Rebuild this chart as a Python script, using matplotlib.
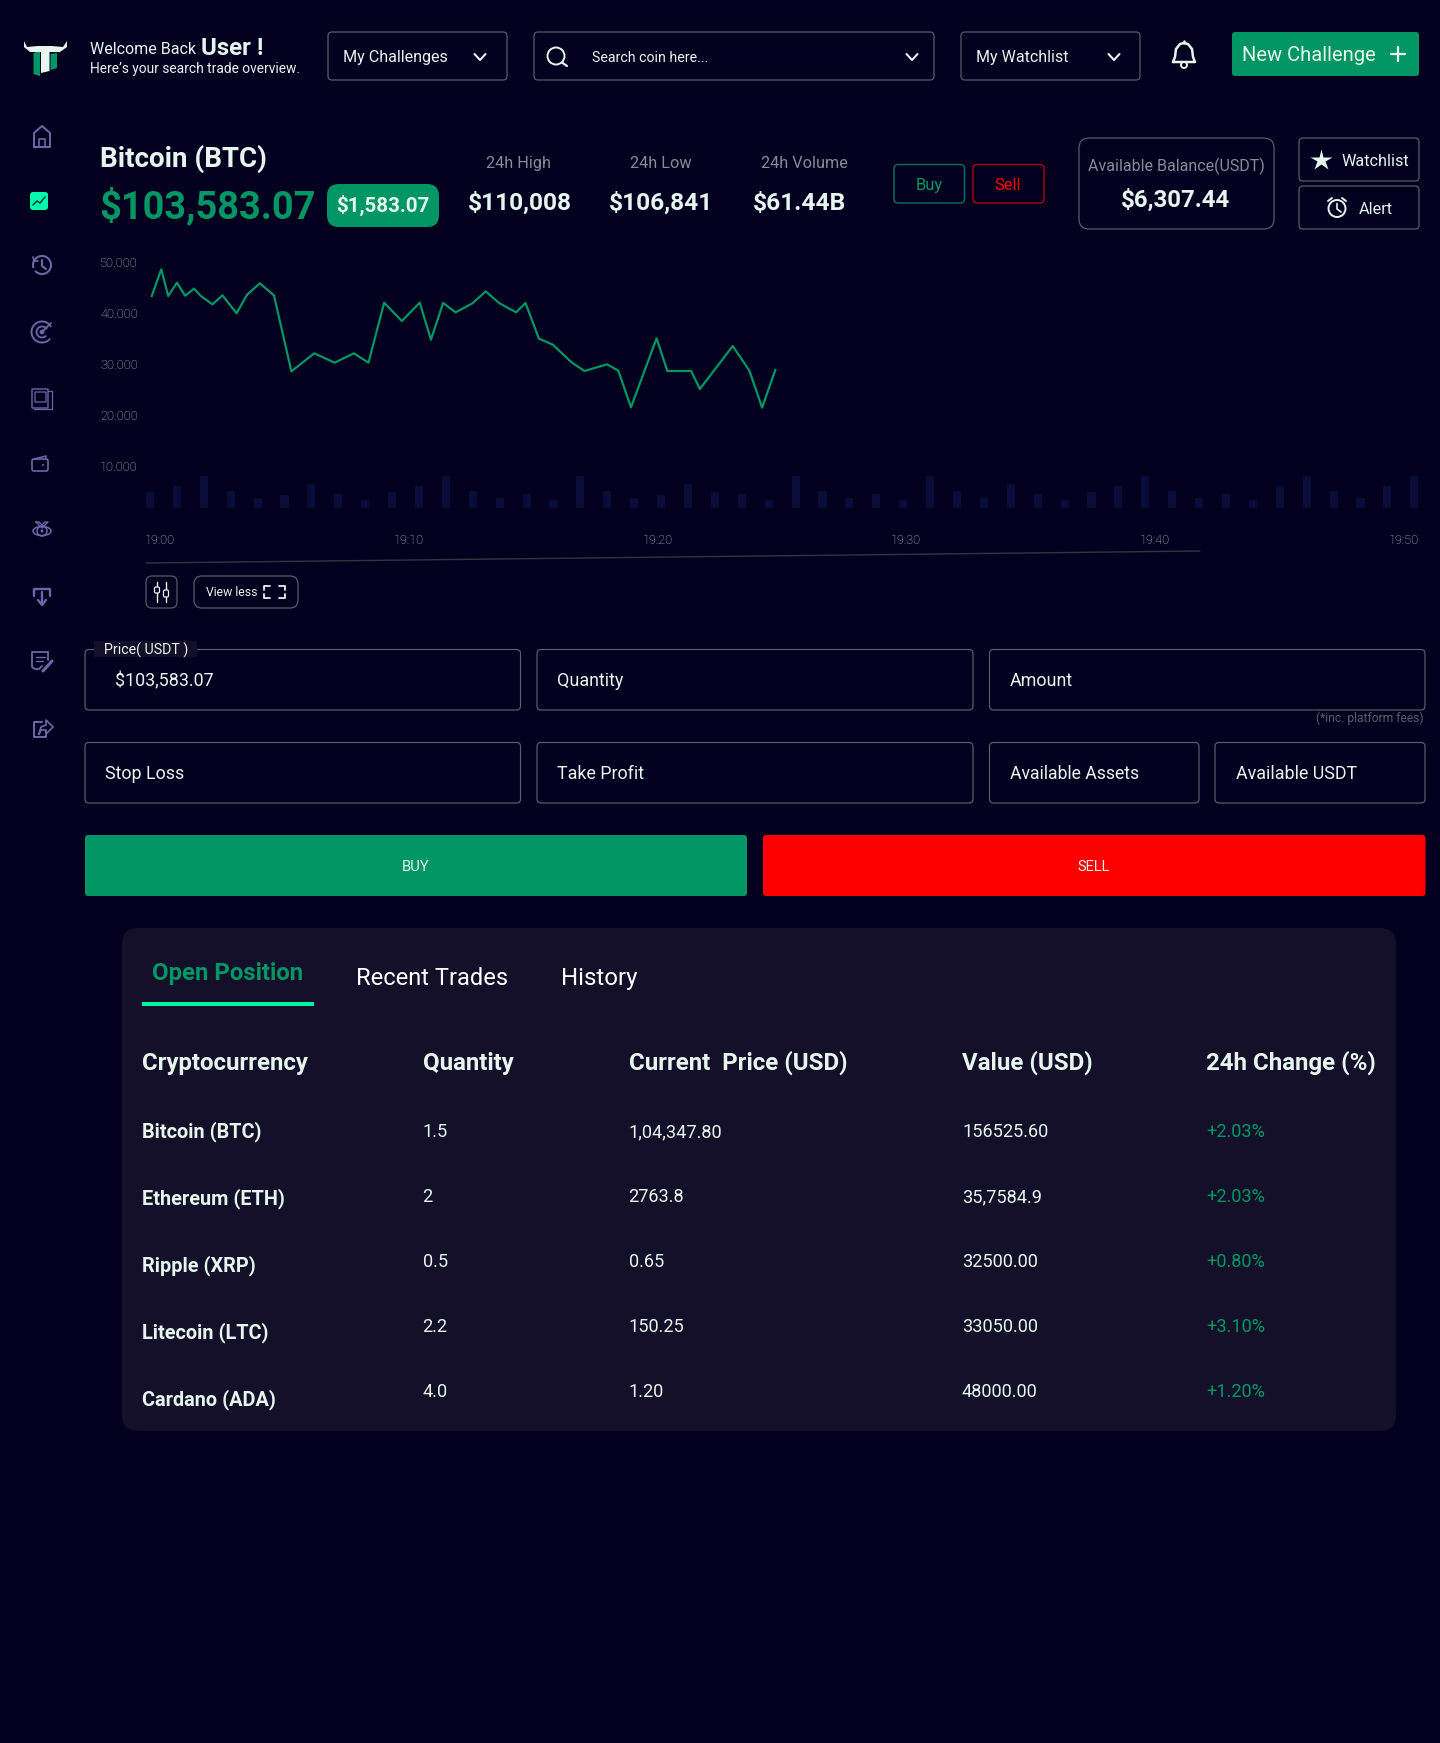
import matplotlib
matplotlib.use("Agg")
import matplotlib.pyplot as plt
from matplotlib.patches import FancyBboxPatch, Rectangle, Circle, Polygon, Arc

BG = "#03001f"
CARD = "#141029"
GREEN = "#029664"
MINT = "#e6f5ee"
GRAY = "#8b8a96"
EDGE = "#5f5f6d"
LAV = "#6f66a8"

# price line, minutes after 19:00 and price
line_minutes = [-0.33, 0.05, 0.33, 0.68, 1.01, 1.37, 1.64, 2.11, 2.51, 3.08, 3.50, 4.01, 4.58, 5.28,
                6.20, 7.02, 7.79, 8.38, 9.01, 9.72, 10.44, 10.89, 11.38, 11.88, 12.56, 13.09, 13.63,
                14.31, 14.69, 15.23, 15.79, 16.54, 17.06, 17.97, 18.42, 18.93, 19.96, 20.39, 21.35,
                21.70, 23.02, 23.69, 24.20, 24.73]
line_prices = [43346, 48565, 43346, 45955, 43412, 44781, 43346, 41715, 43477, 39954, 43607, 45825,
               43477, 28604, 32126, 30299, 32126, 30299, 42042, 38454, 42042, 34801, 41976, 40150,
               41911, 44260, 41976, 40150, 41976, 34997, 33823, 30365, 28669, 29973, 28734, 21558,
               35062, 28669, 28669, 25146, 33561, 28734, 21493, 28864]
volumes = [47, 65, 95, 50, 29, 38, 71, 41, 23, 47, 65, 95, 50, 29, 41, 23, 95, 50, 29, 38, 71, 47, 41, 23,
           95, 50, 29, 41, 23, 95, 50, 29, 71, 41, 23, 47, 65, 95, 50, 29, 41, 23, 65, 95, 50, 29, 65, 95]
price_ticks = [10000, 20000, 30000, 40000, 50000]
price_labels = ["10.000", "20.000", "30.000", "40.000", "50.000"]
time_ticks = [0, 10, 20, 30, 40, 50]
time_labels = ["19:00", "19:10", "19:20", "19:30", "19:40", "19:50"]

# table
table_headers = ["Cryptocurrency", "Quantity", "Current  Price (USD)", "Value (USD)", "24h Change (%)"]
coins = ["Bitcoin (BTC)", "Ethereum (ETH)", "Ripple (XRP)", "Litecoin (LTC)", "Cardano (ADA)"]
quantities = ["1.5", "2", "0.5", "2.2", "4.0"]
cur_prices = ["1,04,347.80", "2763.8", "0.65", "150.25", "1.20"]
values_usd = ["156525.60", "35,7584.9", "32500.00", "33050.00", "48000.00"]
changes = ["+2.03%", "+2.03%", "+0.80%", "+3.10%", "+1.20%"]

plt.rcParams["font.family"] = ["Roboto", "DejaVu Sans"]

W, H = 1440, 1743
fig = plt.figure(figsize=(W / 100, H / 100), dpi=100, facecolor=BG)
ui = fig.add_axes([0, 0, 1, 1])
ui.set_xlim(0, W)
ui.set_ylim(H, 0)
ui.axis("off")


def txt(x, yc, s, px, color=MINT, weight="normal", ha="left"):
    # yc is the middle of the capitals, px the font size in pixels
    ui.text(x, yc + 0.355 * px, s, fontsize=px * 0.72, color=color, fontweight=weight,
            ha=ha, va="baseline")


def box(x0, y0, x1, y1, r=4, fc="none", ec=EDGE, lw=0.85, z=2):
    ui.add_patch(FancyBboxPatch((x0, y0), x1 - x0, y1 - y0, boxstyle=f"round,pad=0,rounding_size={r}",
                                fc=fc, ec=ec, lw=lw, zorder=z))


def pl(xs, ys, color=MINT, lw=1.3, z=3):
    ui.plot(xs, ys, color=color, lw=lw, zorder=z, solid_capstyle="round", solid_joinstyle="round")


def chevron(cx, cy, color=MINT):
    pl([cx - 5.5, cx, cx + 5.5], [cy - 3, cy + 3, cy - 3], color, 1.5)


# logo
ui.add_patch(Polygon([[33.5, 53], [40, 51], [40, 76], [33.5, 74]], fc=GREEN, ec="none"))
ui.add_patch(Polygon([[50.5, 54], [57, 53], [57, 68], [50.5, 70]], fc=GREEN, ec="none"))
ui.add_patch(Polygon([[41, 51], [49.5, 51], [49.5, 71], [41, 73]], fc=MINT, ec="none"))
ui.add_patch(Polygon([[24, 41], [27, 47], [38, 46], [52, 46], [63, 47], [67, 41], [67, 47], [60, 52],
                      [30, 52], [24, 47]], fc=MINT, ec="none"))

# header
txt(90, 48, "Welcome Back", 16, MINT)
txt(201, 46, "User !", 24, MINT, "bold")
txt(90, 68, "Here\u2019s your search trade overview.", 13.8, MINT)
box(328, 32, 507, 80)
txt(343, 56.5, "My Challenges", 16.1)
chevron(480, 57)
box(534, 32, 934, 80)
ui.add_patch(Circle((556, 56), 8.5, fc="none", ec=MINT, lw=1.4, zorder=3))
pl([562, 567], [62.5, 66], MINT, 1.6)
txt(592, 56.5, "Search coin here...", 14.1)
chevron(912, 57)
box(961, 32, 1140, 80)
txt(976, 56.5, "My Watchlist", 16)
chevron(1114, 57)
# bell
pl([1173, 1175, 1176, 1180, 1184, 1188, 1192, 1193, 1195, 1173],
   [62, 57, 49, 44, 43, 44, 49, 57, 62, 62], MINT, 1.8)
ui.add_patch(Circle((1184, 65), 3, fc=BG, ec=MINT, lw=1.4, zorder=3))
pl([1184, 1184], [41, 43], MINT, 1.8)
box(1232, 32, 1419, 76, r=3, fc=GREEN, ec="none")
txt(1242, 54, "New Challenge", 20.2)
pl([1391, 1405], [54, 54], MINT, 1.6)
pl([1398, 1398], [47, 61], MINT, 1.6)

# ticker row
txt(100, 156.5, "Bitcoin (BTC)", 27.8, MINT, "bold")
txt(99.5, 204.5, "$103,583.07", 38, GREEN, "bold")
box(327, 184, 439, 227, r=12, fc=GREEN, ec="none")
txt(383, 205, "$1,583.07", 20.5, MINT, "bold", ha="center")
txt(518, 162, "24h High", 16.2, GRAY, ha="center")
txt(520, 201, "$110,008", 24.5, MINT, "bold", ha="center")
txt(661, 162, "24h Low", 16.2, GRAY, ha="center")
txt(661, 201, "$106,841", 24.5, MINT, "bold", ha="center")
txt(804, 162, "24h Volume", 16.2, GRAY, ha="center")
txt(800, 201, "$61.44B", 24.5, MINT, "bold", ha="center")
box(894, 164.5, 964.5, 203, ec="#0b6a55", lw=1.1)
txt(929, 184, "Buy", 16.5, GREEN, ha="center")
box(973, 164.5, 1044, 203, ec="#a00010", lw=1.1)
txt(1008, 184, "Sell", 16.5, "#ff0000", ha="center")
box(1079, 138, 1274, 229, r=10)
txt(1176, 165, "Available Balance(USDT)", 16, GRAY, ha="center")
txt(1176, 198, "$6,307.44", 24, MINT, "bold", ha="center")
box(1299, 138, 1419, 181)
ui.plot([1320.5], [160], marker="*", ms=16, color=MINT, mec="none", zorder=3)
txt(1342, 160, "Watchlist", 16.2)
box(1299, 186, 1419, 229)
ui.add_patch(Circle((1337, 208.5), 8.5, fc="none", ec=MINT, lw=1.4, zorder=3))
pl([1337, 1337, 1341], [203.5, 209, 212], MINT, 1.2)
pl([1328, 1332], [201, 198], MINT, 1.4)
pl([1342, 1346], [198, 201], MINT, 1.4)
txt(1359, 208.5, "Alert", 16.2)

# sidebar icons
pl([34, 34, 42, 50, 50, 34], [147, 133, 126, 133, 147, 147], LAV, 1.4)
pl([39, 39, 45, 45], [147, 139, 139, 147], LAV, 1.2)
box(30, 192, 48, 210, r=3, fc="#00fbab", ec="none")
pl([33, 37, 40, 45], [205, 201, 203, 197], "#0a3a40", 1.1)
ui.add_patch(Arc((42, 265), 18, 18, theta1=-200, theta2=140, ec=LAV, lw=1.5, zorder=3))
pl([33, 34, 38], [257, 261, 261], LAV, 1.2)
pl([42, 42, 46], [260, 266, 269], LAV, 1.5)
ui.add_patch(Arc((42, 332), 21, 21, theta1=-320, theta2=-30, ec=LAV, lw=1.4, zorder=3))
ui.add_patch(Arc((42, 332), 11, 11, theta1=-320, theta2=-30, ec=LAV, lw=1.3, zorder=3))
ui.add_patch(Circle((42, 332), 2.4, fc=LAV, ec="none", zorder=3))
pl([42, 51], [332, 323], LAV, 1.3)
box(32, 389, 48, 408, r=0, ec=LAV, lw=1)
box(35, 392, 46, 402, r=0, ec=LAV, lw=0.9)
pl([48, 52, 52, 34], [391, 391, 409, 409], LAV, 0.9)
box(32, 459, 48, 471, r=2, ec=LAV, lw=1.2)
pl([34, 46, 46], [459, 456, 459], LAV, 1.1)
ui.add_patch(Circle((43, 465), 1, fc=LAV, ec="none", zorder=3))
ui.add_patch(Circle((42, 531), 5, fc="none", ec=LAV, lw=1.1, zorder=3))
ui.add_patch(Circle((42, 531), 1.5, fc=LAV, ec="none", zorder=3))
ui.add_patch(Arc((42, 531), 18, 9, ec=LAV, lw=1.1, zorder=3))
pl([36, 42, 48, 45, 42, 39, 36], [522, 528, 522, 522, 525, 522, 522], LAV, 1)
pl([34, 34, 50, 50], [596, 589, 589, 596], LAV, 1.7)
pl([42, 42], [592, 604], LAV, 1.7)
pl([38, 42, 46], [600, 605, 600], LAV, 1.7)
pl([48, 32, 32, 35, 39, 42], [652, 652, 667, 669, 669, 666], LAV, 1.3)
pl([48, 48], [652, 660], LAV, 1.3)
pl([36, 45], [657, 657], LAV, 1)
pl([36, 43], [661, 661], LAV, 1)
pl([43, 52], [671, 661], LAV, 2.2)
pl([42, 34, 34, 37, 46, 46], [722, 722, 737, 737, 737, 732], LAV, 1.4)
pl([39, 41, 46, 46, 53, 46, 46, 41, 39], [734, 727, 725, 720, 727, 734, 730, 730, 734], LAV, 1.2)

# chart, same pixel span as the reference layout
px0, px1, py0, py1 = 145, 1425, 240, 520
ax = fig.add_axes([px0 / W, 1 - py1 / H, (px1 - px0) / W, (py1 - py0) / H])
ax.patch.set_alpha(0)
ax.set_xlim((px0 - 160) / 24.88, (px1 - 160) / 24.88)
ax.set_ylim(50000 - (py1 - 262) * 195.7, 50000 + (262 - py0) * 195.7)
ax.plot(line_minutes, line_prices, color=GREEN, lw=1.6, zorder=4)
ax.set_xticks(time_ticks, time_labels, fontweight="light")
ax.set_yticks(price_ticks, price_labels, fontweight="light")
ax.tick_params(length=0)
ax.tick_params(axis="x", colors="#c4c4cc", labelsize=9.2, pad=10)
ax.tick_params(axis="y", colors="#c0c0c8", labelsize=9.2, pad=5)
for s in ax.spines.values():
    s.set_visible(False)

vol = fig.add_axes(ax.get_position())
vol.patch.set_alpha(0)
vol.axis("off")
vol.set_xlim((px0 - 150) / 26.9, (px1 - 150) / 26.9)
vol.set_ylim(-(py1 - 507.7) * 3, (507.7 - py0) * 3)
vol.bar(range(len(volumes)), volumes, width=0.3, color="#0a0d3a")

# separator under the time labels and chart buttons
pl([146, 1200], [563, 551], "#34343f", 1)
box(146, 576, 177, 608, r=6)
pl([157, 157], [582, 602], MINT, 1)
pl([166, 166], [582, 602], MINT, 1)
box(154.5, 587, 159.5, 593, r=1.5, fc=BG, ec=MINT, lw=0.9, z=4)
box(163.5, 590, 168.5, 597, r=1.5, fc=BG, ec=MINT, lw=0.9, z=4)
box(194, 576, 298, 608, r=8)
txt(206, 592, "View less", 12.2)
for xa, xb, ya, yb in [(270, 264, 586, 590), (279, 285, 586, 590), (270, 264, 598, 594), (279, 285, 598, 594)]:
    pl([xa, xb, xb], [ya, ya, yb], MINT, 1.3)

# order form
fields = [(85, 520.5, 649.5, 710), (537, 973, 649.5, 710), (989.5, 1425, 649.5, 710),
          (85, 520.5, 742.5, 803), (537, 973, 742.5, 803), (989.5, 1199, 742.5, 803), (1215, 1425, 742.5, 803)]
for x0, x1, y0, y1 in fields:
    box(x0, y0, x1, y1)
ui.add_patch(Rectangle((94, 641), 103, 16, fc=CARD, ec="none", zorder=3))
ui.text(104, 654.3, "Price( USDT )", fontsize=10.3, color=MINT, va="baseline", zorder=4)
txt(115.5, 680, "$103,583.07", 17.9)
txt(557, 680, "Quantity", 17.9)
txt(1009.5, 680, "Amount", 17.9)
txt(1424, 718, "(*inc. platform fees)", 12, "#5d5d6b", ha="right")
txt(105, 773, "Stop Loss", 17.9)
txt(557, 773, "Take Profit", 17.9)
txt(1009.5, 773, "Available Assets", 17.6)
txt(1235.5, 773, "Available USDT", 17.9)
box(85, 835, 747, 896, r=3, fc=GREEN, ec="none")
txt(415.7, 865.5, "BUY", 14.8, ha="center")
box(763, 835, 1425.5, 896, r=3, fc="#ff0000", ec="none")
txt(1094, 865.5, "SELL", 14.5, ha="center")

# positions table
box(122, 928, 1396, 1431, r=16, fc=CARD, ec="none", z=1)
txt(152, 971.5, "Open Position", 24, GREEN, "bold")
txt(356, 977, "Recent Trades", 23.6, "#ffffff")
txt(561, 976.5, "History", 24, "#ffffff")
ui.add_patch(Rectangle((142, 1002), 172, 4, fc="#00f5a0", ec="none", zorder=3))

col_x = [142, 422.5, 629, 962, 1206]
for x, head in zip(col_x, table_headers):
    txt(x, 1061, head, 24, MINT, "bold")
name_y = [1130.5, 1197.5, 1264.5, 1331.5, 1398.5]
row_y = [1130.5, 1195.5, 1260.5, 1325.5, 1390.5]
for i in range(len(coins)):
    txt(col_x[0], name_y[i], coins[i], 19.9, MINT, "bold")
    txt(col_x[1], row_y[i], quantities[i], 18.1)
    txt(col_x[2] - 0.5, row_y[i], cur_prices[i], 18.1)
    txt(col_x[3], row_y[i], values_usd[i], 18.1)
    txt(col_x[4], row_y[i], changes[i], 18.1, GREEN)

fig.savefig("out.png", dpi=100, facecolor=BG)
